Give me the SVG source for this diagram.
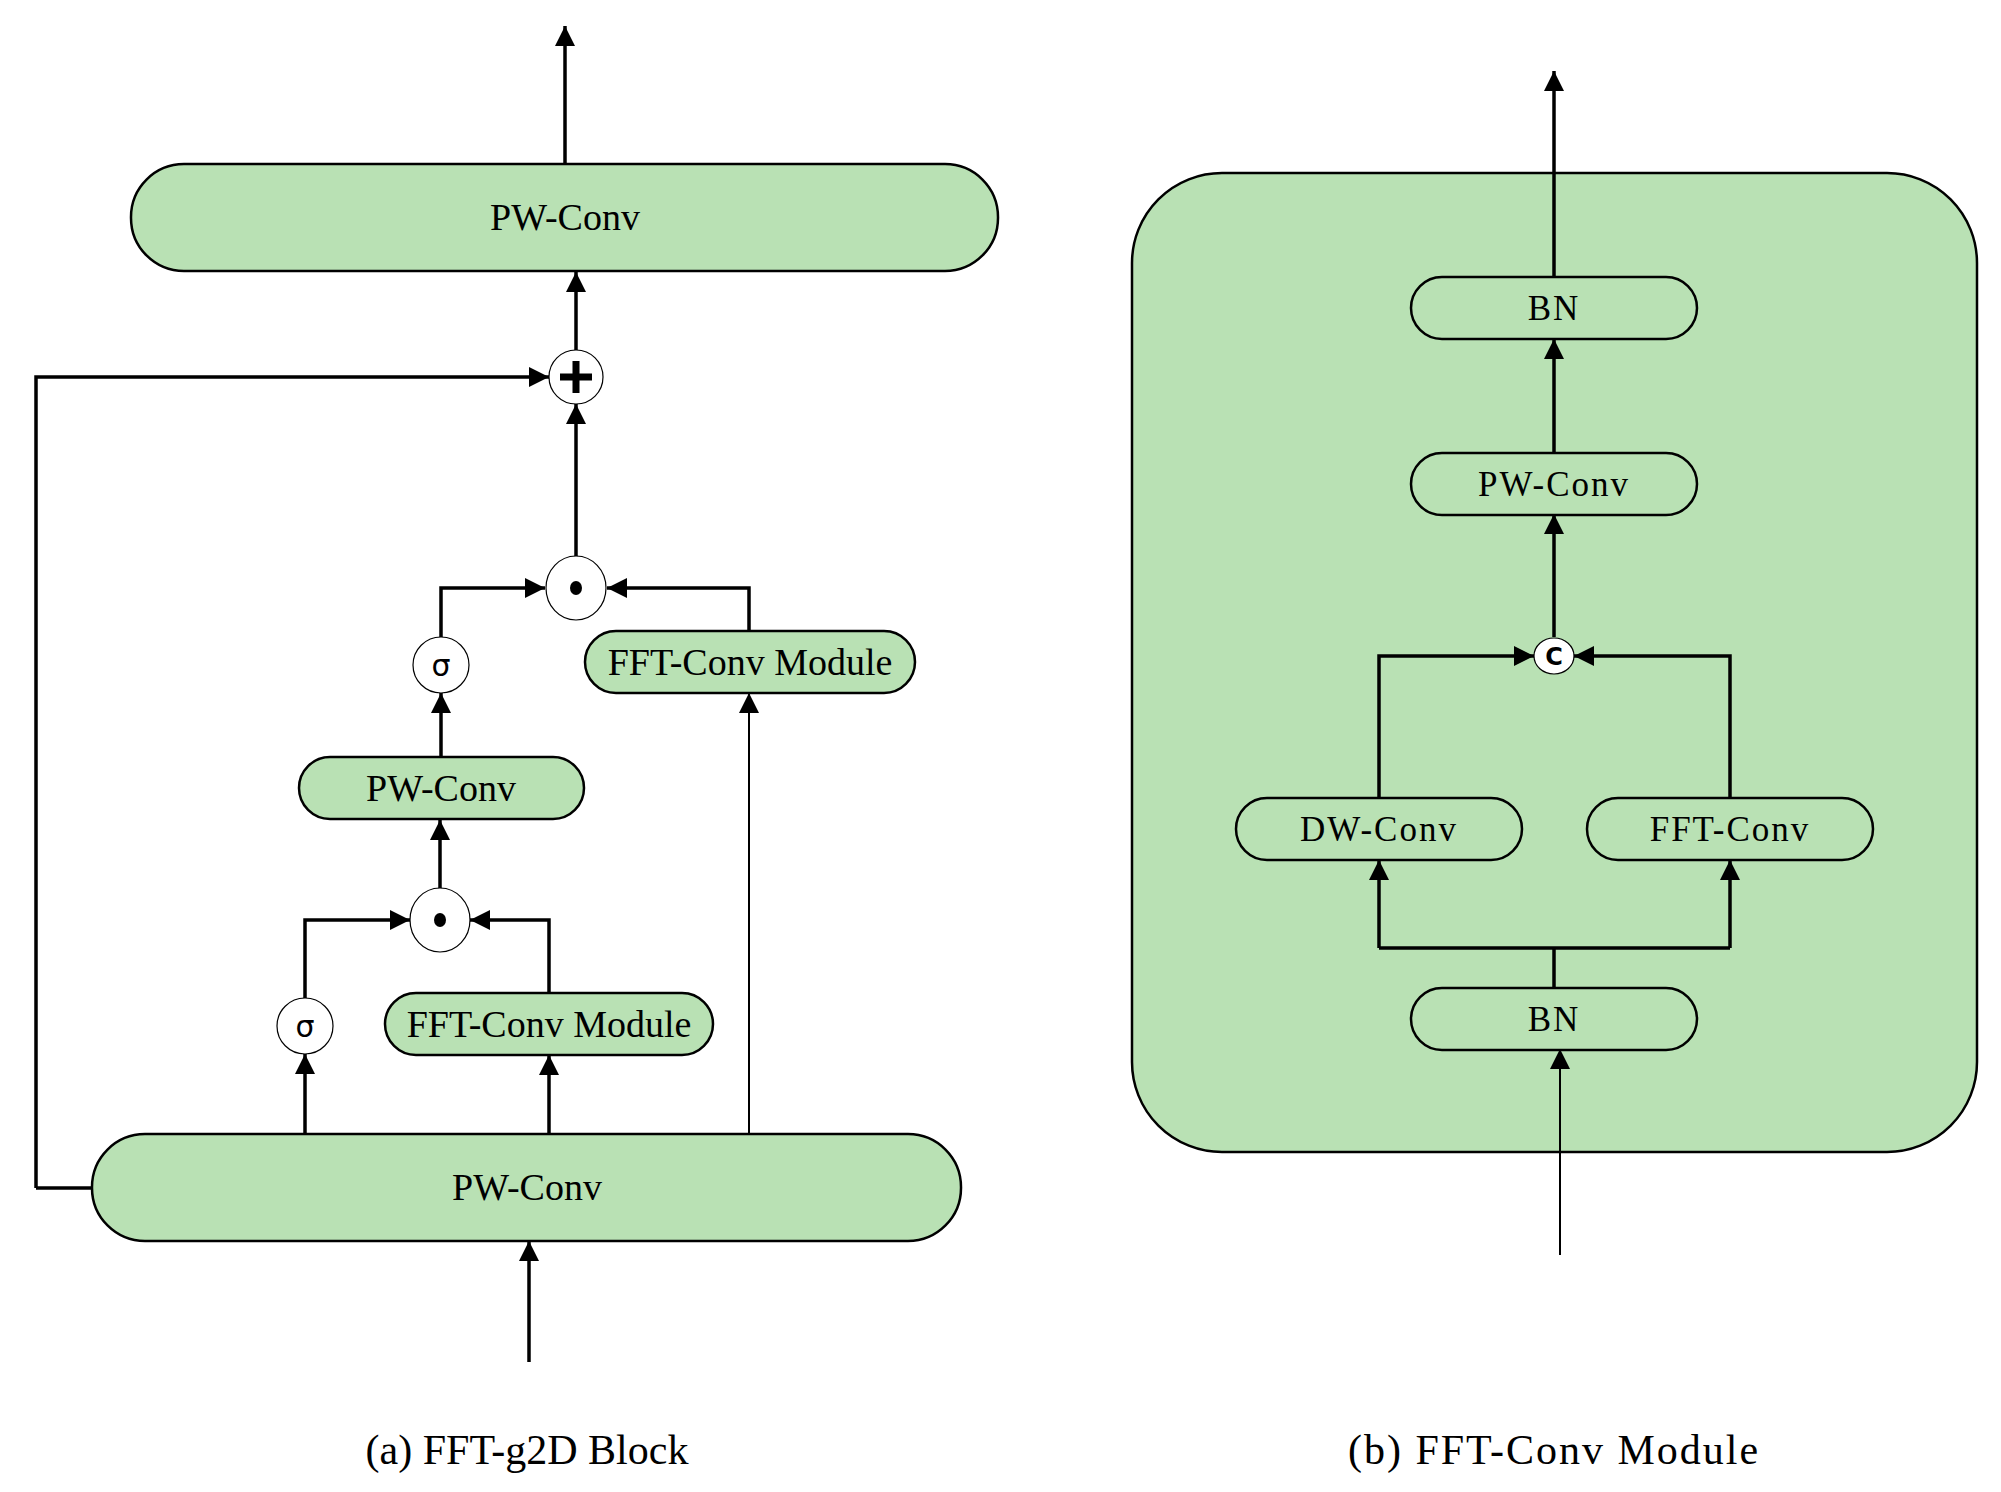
<svg xmlns="http://www.w3.org/2000/svg" width="2001" height="1492" viewBox="0 0 2001 1492">
<defs>
<marker id="ah" viewBox="0 0 10 10" refX="10" refY="5" markerWidth="24" markerHeight="20" markerUnits="userSpaceOnUse" orient="auto">
<path d="M0,0 L10,5 L0,10 z" fill="#000"/>
</marker>
<style>
.box{fill:#b9e1b4;stroke:#000;stroke-width:2.5}
.circ{fill:#fff;stroke:#000;stroke-width:1.2}
.t{font-family:"Liberation Serif","DejaVu Serif",serif;font-size:38px;text-anchor:middle;dominant-baseline:central;fill:#000}
.ts{font-family:"Liberation Serif","DejaVu Serif",serif;font-size:35px;text-anchor:middle;dominant-baseline:central;letter-spacing:2px;fill:#000}
.cap{font-family:"Liberation Serif","DejaVu Serif",serif;font-size:42px;text-anchor:middle;fill:#000}
.e{fill:none;stroke:#000;stroke-width:3.5;marker-end:url(#ah)}
.et{fill:none;stroke:#000;stroke-width:2;marker-end:url(#ah)}
.l{fill:none;stroke:#000;stroke-width:3.5}
</style>
</defs>
<rect width="2001" height="1492" fill="#fff"/>
<g id="module"><rect class="box" x="1132" y="173" width="845" height="979" rx="90"/></g>
<g id="connectors">
<path class="e" d="M565,164 L565,26"/>
<path class="e" d="M576,350 L576,272"/>
<path class="e" d="M36,1188 L36,377 L549,377"/>
<path class="l" d="M92,1188 L36,1188"/>
<path class="e" d="M576,558 L576,404"/>
<path class="e" d="M441,637 L441,588 L545,588"/>
<path class="e" d="M749,631 L749,588 L607,588"/>
<path class="et" d="M749,1134 L749,693"/>
<path class="e" d="M441,757 L441,693"/>
<path class="e" d="M440,890 L440,820"/>
<path class="e" d="M305,998 L305,920 L410,920"/>
<path class="e" d="M549,993 L549,920 L470,920"/>
<path class="e" d="M305,1134 L305,1054"/>
<path class="e" d="M549,1134 L549,1055"/>
<path class="e" d="M529,1362 L529,1241"/>
<path class="e" d="M1554,277 L1554,71"/>
<path class="e" d="M1554,453 L1554,339"/>
<path class="e" d="M1554,637 L1554,514"/>
<path class="e" d="M1379,798 L1379,656 L1534,656"/>
<path class="e" d="M1730,798 L1730,656 L1574,656"/>
<path class="l" d="M1554,988 L1554,948"/>
<path class="e" d="M1379,948 L1379,860"/>
<path class="e" d="M1730,948 L1730,860"/>
<path class="l" d="M1379,948 L1730,948"/>
<path class="et" d="M1560,1255 L1560,1049"/>
</g>
<g id="pw_top"><rect class="box" x="131" y="164" width="867" height="107" rx="53"/><text class="t" x="565" y="217">PW-Conv</text></g>
<g id="plus"><circle class="circ" cx="576" cy="377" r="27"/><path d="M576,361 V393 M560,377 H592" stroke="#000" stroke-width="7"/></g>
<g id="dot1"><ellipse class="circ" cx="576" cy="588" rx="30" ry="32"/><ellipse cx="576" cy="588" rx="6" ry="7"/></g>
<g id="sigma1"><ellipse class="circ" cx="441" cy="665" rx="28" ry="28"/><text x="441" y="665" font-family="DejaVu Sans,sans-serif" font-size="30" text-anchor="middle" dominant-baseline="central">σ</text></g>
<g id="fft1"><rect class="box" x="585" y="631" width="330" height="62" rx="31"/><text class="t" x="750" y="662">FFT-Conv Module</text></g>
<g id="pw_mid"><rect class="box" x="299" y="757" width="285" height="62" rx="31"/><text class="t" x="441" y="788">PW-Conv</text></g>
<g id="dot2"><ellipse class="circ" cx="440" cy="920" rx="30" ry="32"/><ellipse cx="440" cy="920" rx="6" ry="7"/></g>
<g id="sigma2"><ellipse class="circ" cx="305" cy="1026" rx="28" ry="28"/><text x="305" y="1026" font-family="DejaVu Sans,sans-serif" font-size="30" text-anchor="middle" dominant-baseline="central">σ</text></g>
<g id="fft2"><rect class="box" x="385" y="993" width="328" height="62" rx="31"/><text class="t" x="549" y="1024">FFT-Conv Module</text></g>
<g id="pw_bot"><rect class="box" x="92" y="1134" width="869" height="107" rx="53"/><text class="t" x="527" y="1187">PW-Conv</text></g>
<text class="cap" x="527" y="1464">(a) FFT-g2D Block</text>
<g id="bn_top"><rect class="box" x="1411" y="277" width="286" height="62" rx="31"/><text class="ts" x="1554" y="308">BN</text></g>
<g id="pw_r"><rect class="box" x="1411" y="453" width="286" height="62" rx="31"/><text class="ts" x="1554" y="484">PW-Conv</text></g>
<g id="concat"><ellipse class="circ" cx="1554" cy="656" rx="20" ry="18"/><text x="1554" y="657" font-family="DejaVu Sans,sans-serif" font-weight="bold" font-size="24" text-anchor="middle" dominant-baseline="central">C</text></g>
<g id="dw"><rect class="box" x="1236" y="798" width="286" height="62" rx="31"/><text class="ts" x="1379" y="829">DW-Conv</text></g>
<g id="fftc"><rect class="box" x="1587" y="798" width="286" height="62" rx="31"/><text class="ts" x="1730" y="829">FFT-Conv</text></g>
<g id="bn_bot"><rect class="box" x="1411" y="988" width="286" height="62" rx="31"/><text class="ts" x="1554" y="1019">BN</text></g>
<text class="cap" x="1554" y="1464" letter-spacing="2">(b) FFT-Conv Module</text>
</svg>
